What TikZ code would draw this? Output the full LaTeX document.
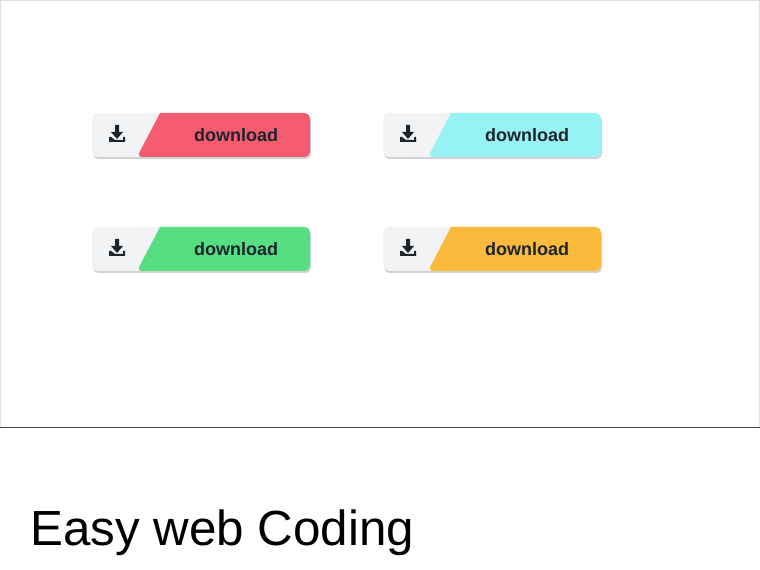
\documentclass[tikz,border=0pt]{standalone}
\usepackage{fontspec}
\setmainfont{Liberation Sans}
\usetikzlibrary{positioning}
\definecolor{btnred}{RGB}{246,92,112}
\definecolor{btncyan}{RGB}{150,242,243}
\definecolor{btngreen}{RGB}{88,222,130}
\definecolor{btnorange}{RGB}{251,186,60}
\definecolor{btnleft}{RGB}{242,243,244}
\definecolor{btntext}{RGB}{28,36,46}
\tikzstyle{shadowbox} = [fill=black!18, rounded corners=4pt]
\tikzstyle{label} = [text=btntext, font=\fontsize{13.5}{16}\selectfont\bfseries]
\newcommand{\dlbutton}[4]{%
  \fill [shadowbox] (#2+1,#3+2) rectangle ++(218,44);
  \fill [btnleft, rounded corners=4pt] (#2,#3) rectangle ++(218,44);
  \fill [#4, rounded corners=4pt] (#2+68,#3) -- (#2+218,#3) -- (#2+218,#3+44)
        -- (#2+45,#3+44) [sharp corners] -- cycle;
  \node [label] (#1) at (#2+144,#3+22) {download};
  \fill [btntext] (#2+23,#3+12) rectangle ++(4,7) -- ++(4,0) -- ++(-6,7) -- ++(-6,-7) -- cycle;
  \fill [btntext] (#2+17,#3+24) -- ++(2,0) -- ++(4,3) -- ++(8,0) -- ++(0,-3) -- ++(2,0)
        -- ++(0,5) -- ++(-16,0) -- cycle;
}
\begin{document}
\begin{tikzpicture}[x=0.75pt, y=-0.75pt]
  \useasboundingbox (0,0) rectangle (760,570);
  \fill [white] (0,0) rectangle (760,570);
  \draw [black!12] (0.5,0.5) rectangle (759.5,427);
  \draw [black!70, line width=0.75pt] (0,427) -- (760,427);
  \dlbutton {red} {92} {113} {btnred}
  \dlbutton {cyan} {383} {113} {btncyan}
  \dlbutton {green} {92} {227} {btngreen}
  \dlbutton {orange} {383} {227} {btnorange}
  \node [anchor=base west, inner sep=0pt, font=\fontsize{37}{44}\selectfont] (title)
    at (30,545) {Easy web Coding};
\end{tikzpicture}
\end{document}
